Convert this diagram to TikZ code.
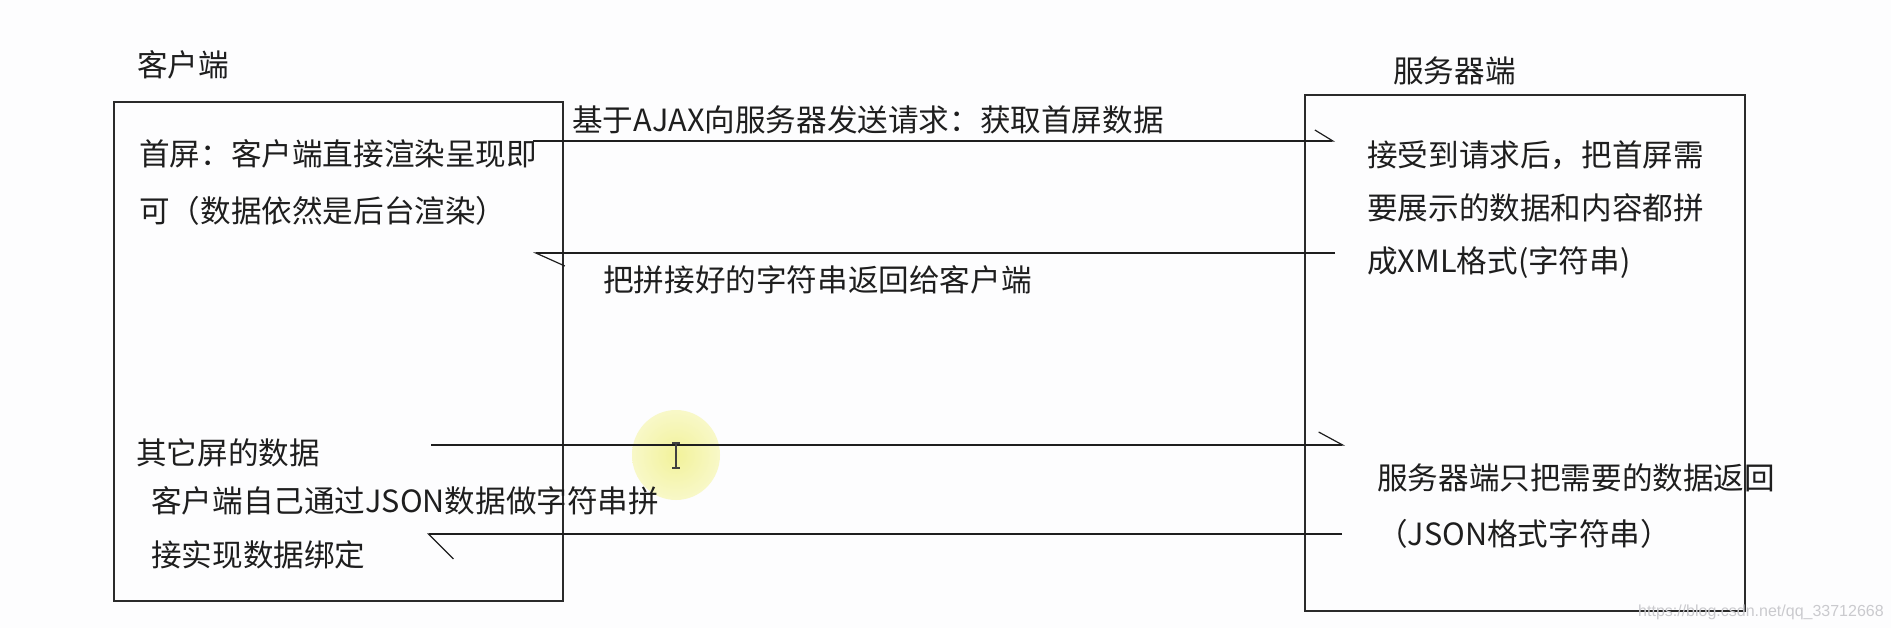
\documentclass[tikz,border=0pt]{standalone}
\usepackage{fontspec}
\setmainfont{Noto Sans CJK SC}
\newfontfamily\wmfont{Liberation Sans}
\usetikzlibrary{arrows.meta}
\definecolor{ink}{HTML}{1E1E1E}
\definecolor{edge}{HTML}{2A2A2A}
\definecolor{hl}{HTML}{F2F29A}
\definecolor{hlout}{HTML}{F8F8C8}
\definecolor{wm}{HTML}{CACACE}
\definecolor{bg}{HTML}{FDFDFE}
\begin{document}
\begin{tikzpicture}[x=1pt,y=-1pt,
  box/.style={draw=edge,line width=2pt,inner sep=0pt,anchor=north west},
  txt/.style={text=ink,inner sep=0pt,anchor=base west,font=\fontsize{30.6}{36}\selectfont},
  conn/.style={draw=ink,line width=1.7pt},
  barb/.style n args={2}{-{Straight Barb[left,length=#1pt,width=#2pt,line width=1.2pt]}}
]
\useasboundingbox (0,0) rectangle (1891,628);
\fill[bg] (0,0) rectangle (1891,628);

% cursor highlight
\shade[inner color=hl,outer color=hlout] (676,455) ellipse [x radius=44pt, y radius=45pt];

% boxes
\node[box,minimum width=449pt,minimum height=499pt] (client) at (113,101) {};
\node[box,minimum width=440pt,minimum height=516pt] (server) at (1304,94) {};

% titles
\node[txt] (ctitle) at (137,77) {客户端};
\node[txt] (stitle) at (1393,83) {服务器端};

% client texts
\node[txt] (c1) at (139,166) {首屏：客户端直接渲染呈现即};
\node[txt] (c2) at (139,223) {可（数据依然是后台渲染）};
\node[txt] (c3) at (136,464) {其它屏的数据};
\node[txt] (c4) at (151,512) {客户端自己通过JSON数据做字符串拼};
\node[txt] (c5) at (151,566) {接实现数据绑定};

% server texts
\node[txt] (s1) at (1367,167) {接受到请求后，把首屏需};
\node[txt] (s2) at (1367,220) {要展示的数据和内容都拼};
\node[txt] (s3) at (1367,273) {成XML格式(字符串)};
\node[txt] (s4) at (1377,489) {服务器端只把需要的数据返回};
\node[txt] (s5) at (1377,545) {（JSON格式字符串）};

% connector labels
\node[txt] (l1) at (572,132) {基于AJAX向服务器发送请求：获取首屏数据};
\node[txt] (l2) at (603,292) {把拼接好的字符串返回给客户端};

% connectors
\coordinate (a1s) at (533,141);  \coordinate (a1e) at (1335,141);
\coordinate (a2s) at (1335,253); \coordinate (a2e) at (533,253);
\coordinate (a3s) at (431,445);  \coordinate (a3e) at (1345,445);
\coordinate (a4s) at (1342,534); \coordinate (a4e) at (427,534);
\draw[conn,barb={18}{22}] (a1s) -- (a1e);
\draw[conn,barb={29}{26}] (a2s) -- (a2e);
\draw[conn,barb={24}{26}] (a3s) -- (a3e);
\draw[conn,barb={25}{50}] (a4s) -- (a4e);

% cursor
\draw[ink!85,line width=1.2pt] (676,443) -- (676,468)
  (672,443) -- (680,443) (672,468) -- (680,468);

% watermark
\node[text=wm,inner sep=0pt,anchor=base west,font=\wmfont\fontsize{16}{18}\selectfont] (wmk) at (1638,616) {https://blog.csdn.net/qq\_33712668};
\end{tikzpicture}
\end{document}
